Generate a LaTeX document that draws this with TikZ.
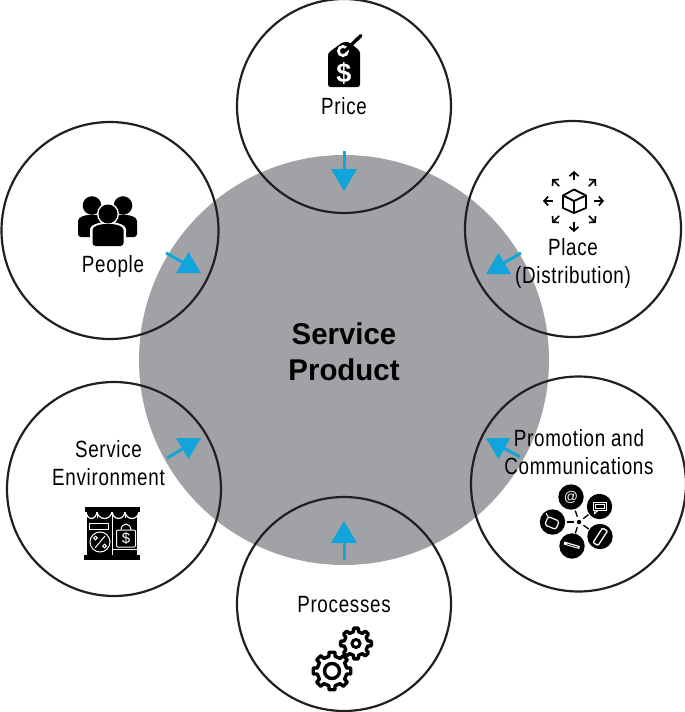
\documentclass[tikz,border=0pt]{standalone}
\usepackage{fontspec}
\usetikzlibrary{arrows.meta}
\setmainfont{Liberation Sans}
\newfontfamily\narrowfont[FakeStretch=0.8,LetterSpace=3]{Liberation Sans}
\newfontfamily\narrowbold[FakeStretch=0.98]{Liberation Sans}
\definecolor{ringcol}{HTML}{231F20}
\definecolor{hubgray}{HTML}{A0A2A5}
\definecolor{arrowblue}{HTML}{12A5DC}
\newcommand{\gearshape}[5]{% cx cy R r teeth
  \pgfmathsetmacro{\gstep}{360/#5}
  \path[gearline] ([shift={(#1,#2)}]0-0.27*\gstep:#4)
    \foreach \gi in {1,...,#5}{
      \pgfextra{\pgfmathsetmacro{\ga}{(\gi-1)*\gstep}}
      -- ([shift={(#1,#2)}]\ga-0.19*\gstep:#3)
      -- ([shift={(#1,#2)}]\ga+0.19*\gstep:#3)
      -- ([shift={(#1,#2)}]\ga+0.27*\gstep:#4)
      -- ([shift={(#1,#2)}]\ga+0.73*\gstep:#4)
    } -- cycle;
}
\newcommand{\person}[6]{% head x,y,r  body half-width, top, bottom
  \fill[black] (#1,#2) circle[radius=#3];
  \fill[black,rounded corners=3pt] (#1-#4,#6) -- (#1-#4,#5+9)
     .. controls (#1-#4,#5+2) and (#1-0.5*#4,#5) .. (#1,#5)
     .. controls (#1+0.5*#4,#5) and (#1+#4,#5+2) .. (#1+#4,#5+9) -- (#1+#4,#6) -- cycle;
}
\tikzset{
  ring/.style={circle,draw=ringcol,line width=2.2pt,inner sep=0pt},
  lbl/.style={text=black,align=center,font=\narrowfont\fontsize{23.5}{27.5}\selectfont,inner sep=0pt},
  shaft/.style={draw=arrowblue,line width=3pt},
  headfill/.style={fill=arrowblue},
  gearline/.style={draw=black,fill=white,line width=3.4pt,line join=round},
  iconline/.style={draw=black,line width=1.8pt,line join=round},
  whiteline/.style={draw=white,line width=1pt},
  kick/.style={draw=black,line width=1.7pt,-{Straight Barb[length=4pt,width=9pt,line width=1.7pt]}},
}
\begin{document}
\begin{tikzpicture}[x=1pt,y=-1pt]
\useasboundingbox (0,0) rectangle (685,712);
% hub
\node[circle,fill=hubgray,minimum size=410pt,inner sep=0pt] (hub) at (344,360) {};
% rings
\node[ring,minimum size=214pt] (price) at (344,106) {};
\node[ring,minimum size=216pt] (place) at (573,229) {};
\node[ring,minimum size=215pt] (promo) at (578.5,484) {};
\node[ring,minimum size=214pt] (proc) at (344,604) {};
\node[ring,minimum size=214pt] (env) at (114,489) {};
\node[ring,minimum size=217pt] (people) at (110,230.5) {};
% arrows
\coordinate (aprice) at (344,151); \coordinate (bprice) at (344,172);
\draw[shaft] (aprice) -- (bprice);
\fill[headfill] (331,169) -- (357,169) -- (344,191) -- cycle;
\coordinate (aplace) at (521,253); \coordinate (bplace) at (502,264);
\draw[shaft] (aplace) -- (bplace);
\fill[headfill] (486,274) -- (498.5,253) -- (511,274) -- cycle;
\coordinate (apromo) at (520,457); \coordinate (bpromo) at (502,447);
\draw[shaft] (apromo) -- (bpromo);
\fill[headfill] (486,438) -- (510.5,438) -- (498.5,459) -- cycle;
\coordinate (aproc) at (344,560); \coordinate (bproc) at (344,540);
\draw[shaft] (aproc) -- (bproc);
\fill[headfill] (331,543) -- (357,543) -- (344,521) -- cycle;
\coordinate (aenv) at (167,458); \coordinate (benv) at (186,447);
\draw[shaft] (aenv) -- (benv);
\fill[headfill] (176,438) -- (201,438) -- (188.5,459) -- cycle;
\coordinate (apeople) at (166,253); \coordinate (bpeople) at (186,264);
\draw[shaft] (apeople) -- (bpeople);
\fill[headfill] (176,273) -- (201,273) -- (188.5,252) -- cycle;
% price tag icon
\fill[black,rounded corners=2.5pt] (328,87) -- (328,53) -- (343,42) -- (349,42) -- (360,51) -- (360,87) -- cycle;
\draw[white,line width=2.8pt] (343,51) circle[radius=4.6];
\draw[black,line width=3.4pt,line cap=round] (345.5,50.5) -- (361,35.5);
\node[inner sep=0pt,text=white,font=\bfseries\fontsize{27}{27}\selectfont] (dollar) at (344,73) {\$};
% place icon
\draw[iconline] (574,189.5) -- (586,195.5) -- (586,208) -- (574,213) -- (563,208) -- (563,195.5) -- cycle;
\draw[iconline] (563,195.5) -- (574,201) -- (586,195.5) (574,201) -- (574,213);
\coordinate (pc) at (574,201);
\foreach \ang/\ra/\rb in {-90/21/30,-45/21/31,0/20/30,45/21/31,90/21/31,135/21/31,180/21/31,225/21/31}{
  \draw[kick] ([shift={(pc)}]\ang:\ra) -- ([shift={(pc)}]\ang:\rb);
}
% promotion icon
\coordinate (mc) at (579,522);
\fill[black] (mc) circle[radius=2.2];
\foreach \ang in {-108,-38,36,108,180}{
  \draw[black,line width=1.3pt] ([shift={(mc)}]\ang:5.5) -- ([shift={(mc)}]\ang:12);
}
\foreach \x/\y in {571/497,599.5/506.5,600/536.5,572/546,552.5/522}{
  \fill[black] (\x,\y) circle[radius=12.7];
}
\node[inner sep=0pt,text=white,font=\fontsize{14}{14}\selectfont] (atsign) at (571,497) {@};
\draw[whiteline] (593,502.5) rectangle (606,510.5);
\draw[whiteline,line width=0.6pt] (595,504.5) rectangle (604,508.5);
\draw[whiteline] (595,510.5) -- (594.5,513.5) -- (598,510.5);
\draw[whiteline,rounded corners=1pt,line width=1.3pt] (602.5,528) -- (607.5,531) -- (598,545.5) -- (593,542.5) -- cycle;
\draw[white,line width=3pt] (564,543) -- (579.5,547.5);
\draw[black,line width=0.6pt] (567,544) -- (578,547.2);
\begin{scope}[rotate around={-22:(552,523)}]
\draw[whiteline,rounded corners=1.8pt,line width=1.2pt] (546,518.5) rectangle (558,527.5);
\end{scope}
\draw[whiteline] (548.5,517.5) -- (546,513);
% gears
\gearshape{356}{643.5}{15.5}{12}{8}
\draw[black,fill=white,line width=3pt] (356,643.5) circle[radius=4];
\gearshape{332}{671}{19}{15}{8}
\draw[black,fill=white,line width=3.4pt] (332,671) circle[radius=7.5];
% store icon
\fill[black] (87,515) rectangle (137,555);
\draw[white,fill=black,line width=1.2pt] (139,511)
  arc[start angle=0,end angle=180,x radius=7,y radius=7.5]
  arc[start angle=0,end angle=180,x radius=6.5,y radius=7.5]
  arc[start angle=0,end angle=180,x radius=7.5,y radius=7.5]
  arc[start angle=0,end angle=180,x radius=5.5,y radius=7.5] -- cycle;
\fill[black] (85,507) rectangle (140,512);
\draw[white,line width=0.8pt] (97,512) -- (97,518) (112,512) -- (112,555) (125,512) -- (125,518);
\draw[white,line width=1pt] (89.5,523) rectangle (108,529);
\draw[white,line width=1pt] (100,542) circle[radius=10];
\draw[white,line width=1pt] (95,548) -- (105,536);
\draw[white,line width=1pt] (95.5,538) circle[radius=1.8] (104.5,546) circle[radius=1.8];
\draw[white,line width=1pt,rounded corners=1pt] (116.5,530) rectangle (135.5,547);
\draw[white,line width=1pt] (121,530) arc[start angle=180,end angle=360,x radius=5,y radius=6];
\draw[white,line width=1pt] (112,549.5) -- (137,549.5);
\node[inner sep=0pt,text=white,font=\fontsize{15}{15}\selectfont] (storedollar) at (126,538.5) {\$};
\fill[black] (84,555) rectangle (139.5,559.5);
% people icon
\person{92}{205.5}{9.3}{14}{215}{237}
\person{123}{205.5}{9.3}{14}{215}{237}
\fill[white] (108,214) circle[radius=11];
\fill[white,rounded corners=3pt] (90,248) -- (90,232) .. controls (90,225) and (100,222) .. (108,222) .. controls (116,222) and (126,225) .. (126,232) -- (126,248) -- cycle;
\person{108}{214}{9.5}{15.5}{224}{246}
% labels
\node[inner sep=0pt,text=black,align=center,font=\narrowbold\bfseries\fontsize{30}{36}\selectfont] (hublabel) at (344,352) {Service\\Product};
\node[lbl] (pricelabel) at (344,106) {Price};
\node[lbl] (placelabel) at (573,263.5) {Place\\(Distribution)};
\node[lbl] (promolabel) at (579,452) {Promotion and\\Communications};
\node[lbl] (proclabel) at (344,605) {Processes};
\node[lbl] (envlabel) at (108.5,463) {Service\\Environment};
\node[lbl] (peoplelabel) at (113,266.5) {People};
\end{tikzpicture}
\end{document}
